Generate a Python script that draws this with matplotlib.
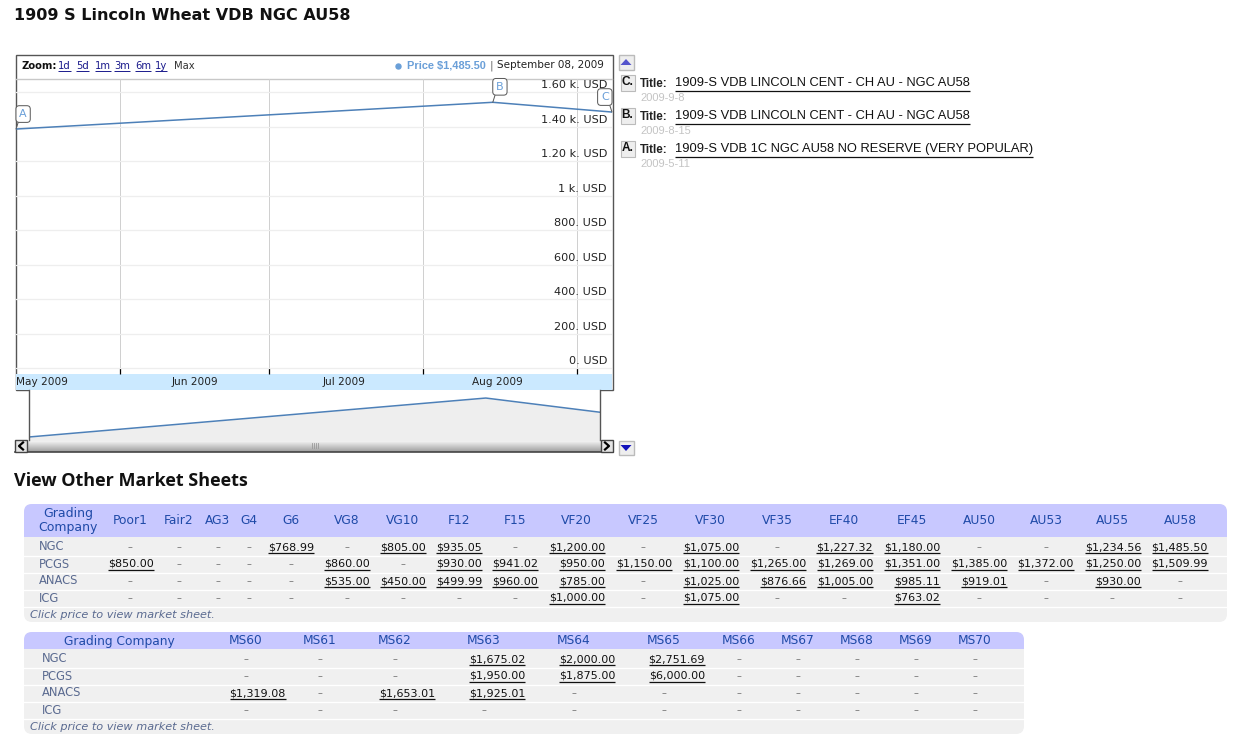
import datetime as dt
import numpy as np
import matplotlib
matplotlib.use("Agg")
import matplotlib.pyplot as plt
from matplotlib.patches import Rectangle, FancyBboxPatch, Polygon
from matplotlib.transforms import ScaledTranslation

# ---------- data ----------
page_title = "1909 S Lincoln Wheat VDB NGC AU58"
section_title = "View Other Market Sheets"
sale_dates = [dt.date(2009, 5, 11), dt.date(2009, 8, 15), dt.date(2009, 9, 8)]
sale_prices = [1387, 1542, 1485.5]
sale_flags = ["A", "B", "C"]
y_ticks = [0, 200, 400, 600, 800, 1000, 1200, 1400, 1600]
y_tick_labels = ["0. USD", "200. USD", "400. USD", "600. USD", "800. USD", "1 k. USD",
                 "1.20 k. USD", "1.40 k. USD", "1.60 k. USD"]
month_starts = [dt.date(2009, 6, 1), dt.date(2009, 7, 1), dt.date(2009, 8, 1), dt.date(2009, 9, 1)]
month_label_dates = [dt.date(2009, 5, 11), dt.date(2009, 6, 16), dt.date(2009, 7, 16), dt.date(2009, 8, 16)]
month_labels = ["May 2009", "Jun 2009", "Jul 2009", "Aug 2009"]
zoom_links = ["1d", "5d", "1m", "3m", "6m", "1y"]
listing_flags = ["C.", "B.", "A."]
listing_titles = ["1909-S VDB LINCOLN CENT - CH AU - NGC AU58",
                  "1909-S VDB LINCOLN CENT - CH AU - NGC AU58",
                  "1909-S VDB 1C NGC AU58 NO RESERVE (VERY POPULAR)"]
listing_dates = ["2009-9-8", "2009-8-15", "2009-5-11"]

companies = ["NGC", "PCGS", "ANACS", "ICG"]
grades_1 = ["Poor1", "Fair2", "AG3", "G4", "G6", "VG8", "VG10", "F12", "F15", "VF20", "VF25",
            "VF30", "VF35", "EF40", "EF45", "AU50", "AU53", "AU55", "AU58"]
ngc_1 = [None, None, None, None, "$768.99", None, "$805.00", "$935.05", None, "$1,200.00", None,
         "$1,075.00", None, "$1,227.32", "$1,180.00", None, None, "$1,234.56", "$1,485.50"]
pcgs_1 = ["$850.00", None, None, None, None, "$860.00", None, "$930.00", "$941.02", "$950.00", "$1,150.00",
          "$1,100.00", "$1,265.00", "$1,269.00", "$1,351.00", "$1,385.00", "$1,372.00", "$1,250.00", "$1,509.99"]
anacs_1 = [None, None, None, None, None, "$535.00", "$450.00", "$499.99", "$960.00", "$785.00", None,
           "$1,025.00", "$876.66", "$1,005.00", "$985.11", "$919.01", None, "$930.00", None]
icg_1 = [None, None, None, None, None, None, None, None, None, "$1,000.00", None,
         "$1,075.00", None, None, "$763.02", None, None, None, None]
grades_2 = ["MS60", "MS61", "MS62", "MS63", "MS64", "MS65", "MS66", "MS67", "MS68", "MS69", "MS70"]
ngc_2 = [None, None, None, "$1,675.02", "$2,000.00", "$2,751.69", None, None, None, None, None]
pcgs_2 = [None, None, None, "$1,950.00", "$1,875.00", "$6,000.00", None, None, None, None, None]
anacs_2 = ["$1,319.08", None, "$1,653.01", "$1,925.01", None, None, None, None, None, None, None]
icg_2 = [None] * 11
footnote = "Click price to view market sheet."

# ---------- layout (pixels) ----------
W, H = 1241, 739
plt.rcParams["font.family"] = ["DejaVu Sans"]
fig = plt.figure(figsize=(W / 100, H / 100), dpi=100, facecolor="white")

def px_axes(x0, y0, x1, y1, **kw):
    return fig.add_axes([x0 / W, 1 - y1 / H, (x1 - x0) / W, (y1 - y0) / H], **kw)

bg = fig.add_axes([0, 0, 1, 1], zorder=0)
bg.set_xlim(0, W); bg.set_ylim(H, 0); bg.axis("off")

def txt(x, y, s, **kw):
    kw.setdefault("va", "center"); kw.setdefault("fontsize", 8)
    return bg.text(x, y, s, parse_math=False, **kw)

def underlined(x, y, s, off=6.0, lw=0.9, **kw):
    t = txt(x, y, s, **kw)
    r = fig.canvas.get_renderer()
    e = t.get_window_extent(r)
    bg.plot([e.x0, e.x1], [y + off, y + off], color=kw.get("color", "black"), lw=lw, solid_capstyle="butt")
    return t

txt(14, 16, page_title, fontsize=11.5, fontweight="bold", color="#111111")
txt(14, 481, section_title, fontsize=13, fontweight="bold", color="#111111", family="Open Sans")

# chart frame
bg.add_patch(Rectangle((15.5, 54.5), 597, 335, fc="white", ec="#555555", lw=1.0, zorder=1))
bg.add_patch(Rectangle((16, 374), 596, 15.5, fc="#cbe9ff", ec="none", zorder=1.5))
bg.plot([16, 612], [78.5, 78.5], color="#c8c8c8", lw=1, zorder=2)

# zoom bar
txt(21, 66, "Zoom:", fontsize=7.2, fontweight="bold", color="#111111")
for s, x in zip(zoom_links, [58, 76, 95, 114, 135, 155]):
    underlined(x, 66, s, off=5, lw=0.7, fontsize=7.2, color="#1a1a8c")
txt(174, 66, "Max", fontsize=7.2, color="#333333")
bg.plot([398], [65.5], "o", ms=3.6, color="#6a9fd8", zorder=3)
txt(407, 66, "Price $1,485.50", fontsize=7.9, fontweight="bold", color="#6a9fd8", family="Liberation Sans")
txt(490, 65.5, "|", fontsize=8, color="#666666")
txt(497, 65.5, "September 08, 2009", fontsize=7.5, color="#222222")

# main chart
ax = px_axes(16, 79, 612, 374, zorder=2)
ax.patch.set_alpha(0)
ax.plot(sale_dates, sale_prices, color="#4d80b8", lw=1.1, zorder=3)
ax.set_xlim(sale_dates[0], sale_dates[-1])
ax.set_ylim(-32.5, 1677)
for s in ax.spines.values():
    s.set_visible(False)
ax.yaxis.tick_right()
ax.set_yticks(y_ticks, y_tick_labels)
ax.tick_params(axis="y", length=0, pad=-3.6, labelsize=8.1, labelcolor="#222222")
lift = ScaledTranslation(0, 2 / 100, fig.dpi_scale_trans)
for tick in ax.yaxis.get_major_ticks():
    tick.label2.set_ha("right"); tick.label2.set_va("bottom")
    tick.label2.set_transform(tick.label2.get_transform() + lift)
ax.set_xticks(month_starts, [""] * len(month_starts))
ax.set_xticks(month_label_dates, month_labels, minor=True)
ax.tick_params(axis="x", which="major", direction="in", length=4.3, width=0.9, color="black")
ax.tick_params(axis="x", which="minor", length=0, pad=2, labelsize=7.6, labelcolor="#222222")
ax.get_xticklabels(minor=True)[0].set_ha("left")
ax.xaxis.grid(True, which="major", color="#cfcfcf", lw=0.7)
ax.yaxis.grid(True, color="#eeeeee", lw=0.9)
ax.set_axisbelow(True)
flag_layout = [("left", 3.3, 10), ("left", 3.3, 10.5), ("right", -3.3, 10)]
for d, p, f, (ha, ox, oy) in zip(sale_dates, sale_prices, sale_flags, flag_layout):
    ax.annotate(f, xy=(d, p), xytext=(ox, oy), textcoords="offset pixels", ha=ha, va="bottom",
                fontsize=8, color="#6a9fd8", annotation_clip=False,
                bbox=dict(boxstyle="round,pad=0.3", fc="white", ec="#555555", lw=0.7),
                arrowprops=dict(arrowstyle="-", color="#555555", lw=0.7, shrinkA=0, shrinkB=0,
                                relpos=(0 if ha == "left" else 1, 0)), zorder=5)

# overview chart
ov = px_axes(29, 390, 600, 440, zorder=2)
ov.fill_between(sale_dates, sale_prices, 1300, color="#eeeeee", lw=0)
ov.plot(sale_dates, sale_prices, color="#4d80b8", lw=1.1)
ov.set_xlim(sale_dates[0], sale_dates[-1])
ov.set_ylim(1375, 1574)
ov.set_xticks([]); ov.set_yticks([])
for k in ("top", "bottom"):
    ov.spines[k].set_visible(False)
for k in ("left", "right"):
    ov.spines[k].set_color("#555555"); ov.spines[k].set_linewidth(1.0)

# scrollbar
grad = np.linspace(0.98, 0.62, 24)[:, None]
bg.imshow(grad, extent=(15, 613, 452, 440), aspect="auto", cmap="gray", vmin=0, vmax=1, zorder=1)
bg.set_xlim(0, W); bg.set_ylim(H, 0)
bg.plot([15, 613], [452, 452], color="#444444", lw=1.2, zorder=2)
for x0 in (15, 601):
    bg.add_patch(Rectangle((x0, 440), 12, 12, fc="#e4e4e4", ec="#444444", lw=1, zorder=3))
bg.plot([23, 19, 23], [442.5, 446, 449.5], color="black", lw=1.6, zorder=4)
bg.plot([605, 609, 605], [442.5, 446, 449.5], color="black", lw=1.6, zorder=4)
for x in (312, 314, 316, 318):
    bg.plot([x, x], [443, 448], color="#999999", lw=0.6, zorder=3)

# up / down buttons
bg.add_patch(Rectangle((618.5, 54.5), 15, 15, fc="#eeeeee", ec="#bbbbbb", lw=1))
bg.add_patch(Polygon([[620.5, 65], [631.5, 65], [626, 59]], fc="#5555cc", ec="none"))
bg.add_patch(Rectangle((618.5, 440.5), 15, 14, fc="#eeeeee", ec="#bbbbbb", lw=1))
bg.add_patch(Polygon([[620.5, 445], [631.5, 445], [626, 451]], fc="#1111bb", ec="none"))

# listings
for i, (fl, ti, da) in enumerate(zip(listing_flags, listing_titles, listing_dates)):
    y = 83 + 33 * i
    bg.add_patch(Rectangle((620.5, y - 8.5), 14, 16, fc="#eeeeee", ec="#bbbbbb", lw=0.8))
    txt(627.5, y - 1, fl, ha="center", fontsize=8.6, fontweight="bold", color="#111111", family="Liberation Sans")
    txt(640, y + 1, "Title:", fontsize=8.4, fontweight="bold", color="#222222", family="Liberation Sans")
    underlined(675, y, ti, off=7.5, fontsize=9.3, color="#111111", family="Liberation Sans")
    txt(640, y + 15, da, fontsize=8, color="#c4c4c4", family="Liberation Sans")

# ---------- tables ----------
HEAD = "#c8c8ff"; HTXT = "#1f4aa8"; ROW = "#f0f0f0"; LAB = "#5a6a90"; DASH = "#777777"

def draw_table(x0, x1, y0, head_bottom, row_ys, foot_y, y_end, label_x, centers, rights, grades, rows):
    bg.add_patch(FancyBboxPatch((x0 + 8, y0 + 8), x1 - x0 - 16, y_end - y0 - 16,
                                boxstyle="round,pad=8", fc=ROW, ec="none", zorder=1))
    bg.add_patch(FancyBboxPatch((x0 + 8, y0 + 8), x1 - x0 - 16, head_bottom - y0 - 16,
                                boxstyle="round,pad=8", fc=HEAD, ec="none", zorder=1.1))
    bg.add_patch(Rectangle((x0, y0 + 8), x1 - x0, head_bottom - y0 - 8, fc=HEAD, ec="none", zorder=1.1))
    head_y = (y0 + head_bottom) / 2
    for g, c in zip(grades, centers):
        txt(c, head_y, g, ha="center", fontsize=8.8, color=HTXT, zorder=3)
    for ry, name, vals in zip(row_ys, companies, rows):
        bg.plot([x0, x1], [ry + 8.5, ry + 8.5], color="white", lw=1, zorder=1.5)
        txt(label_x, ry, name, fontsize=8.3, color=LAB, zorder=3)
        for v, c, r in zip(vals, centers, rights):
            if v is None:
                txt(c, ry, "–", ha="center", fontsize=7, color=DASH, zorder=3)
            else:
                underlined(r, ry, v, ha="right", fontsize=8, color="#111111", zorder=3)
    txt(x0 + 6, foot_y, footnote, fontsize=8.1, style="italic", color="#5a6a90", zorder=3)

centers_1 = [130, 179, 218, 249, 291, 347, 403, 459, 515, 576, 643, 710, 777, 844, 912, 979, 1046, 1112, 1180]
rights_1 = [154, 190, 230, 260, 314, 370, 426, 482, 538, 605, 672, 739, 806, 873, 940, 1007, 1074, 1141, 1208]
draw_table(24, 1227, 504, 537, [547, 564, 581, 598], 615, 622, 39, centers_1, rights_1, grades_1,
           [ngc_1, pcgs_1, anacs_1, icg_1])
txt(68, 520.5, "Grading\nCompany", ha="center", fontsize=9, color=HTXT, linespacing=1.15, zorder=3)

centers_2 = [246, 320, 395, 484, 574, 664, 739, 798, 857, 916, 975]
rights_2 = [286, 340, 435, 525, 615, 705, 760, 820, 880, 940, 1000]
draw_table(24, 1024, 632, 649, [659, 676, 693, 710], 727, 734, 42, centers_2, rights_2, grades_2,
           [ngc_2, pcgs_2, anacs_2, icg_2])
txt(119, 641, "Grading Company", ha="center", fontsize=8.8, color=HTXT, zorder=3)

fig.savefig("out.png", dpi=100, facecolor="white")
